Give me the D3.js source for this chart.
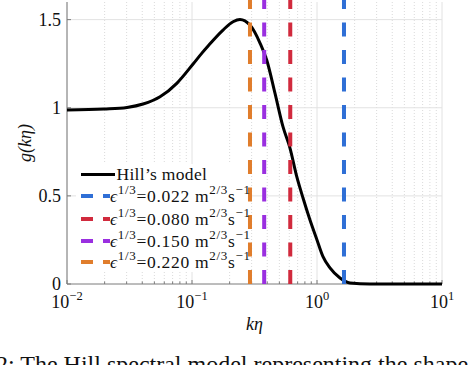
<!DOCTYPE html>
<html><head><meta charset="utf-8">
<script src="https://cdn.jsdelivr.net/npm/d3@7"></script>
<style>
html,body{margin:0;padding:0;background:#fff;overflow:hidden;}
svg{display:block;}
text{font-family:"Liberation Serif","DejaVu Serif",serif;fill:#111;}
</style></head>
<body>
<svg id="c" width="474" height="365"></svg>
<script>
// ---- data ----
const kEta = [0.01, 0.0198, 0.0302, 0.0406, 0.0555, 0.0759, 0.102, 0.120, 0.135, 0.177, 0.213, 0.242, 0.291, 0.350, 0.396, 0.461, 0.535, 0.608, 0.689, 0.773, 0.879, 1.0, 1.117, 1.27, 1.528, 1.837, 2.65, 10];
const gHill = [0.987, 0.993, 1.002, 1.021, 1.062, 1.140, 1.248, 1.310, 1.352, 1.441, 1.488, 1.501, 1.469, 1.367, 1.271, 1.083, 0.891, 0.771, 0.609, 0.488, 0.363, 0.250, 0.155, 0.091, 0.034, 0.006, 0.0, 0.0];
const epsLabels = ["0.022", "0.080", "0.150", "0.220"];
const kEtaCut = [1.644, 0.611, 0.378, 0.291];
const cutColors = ["#2f6fd6", "#d12a3d", "#9a2fe0", "#e07d2c"];
const xTicks = [0.01, 0.1, 1, 10];
const xTickExp = ["\u22122", "\u22121", "0", "1"];
const yTicks = [0, 0.5, 1, 1.5];
const yTickLabels = ["0", "0.5", "1", "1.5"];

// ---- layout ----
const svg = d3.select("#c");
const L = 67, R = 442, T = 2, B = 284;
const x = d3.scaleLog().domain([0.01, 10]).range([L, R]);
const y = d3.scaleLinear().domain([0, 1.6]).range([B, T]);

// grid: minor vertical dotted
const minor = [];
for (let e = -2; e < 1; e++) for (let m = 2; m <= 9; m++) minor.push(m * Math.pow(10, e));
const grid = svg.append("g");
grid.selectAll("line.mn").data(minor).enter().append("line")
  .attr("x1", d => x(d)).attr("x2", d => x(d)).attr("y1", T).attr("y2", B)
  .attr("stroke", "#dadada").attr("stroke-width", 1).attr("stroke-dasharray", "1,2");
grid.selectAll("line.mj").data(xTicks).enter().append("line")
  .attr("x1", d => x(d)).attr("x2", d => x(d)).attr("y1", T).attr("y2", B)
  .attr("stroke", "#e2e2e2").attr("stroke-width", 1);
grid.selectAll("line.hy").data(yTicks.slice(1)).enter().append("line")
  .attr("x1", L).attr("x2", R).attr("y1", d => y(d)).attr("y2", d => y(d))
  .attr("stroke", "#e2e2e2").attr("stroke-width", 1);

// axes lines
svg.append("line").attr("x1", L).attr("x2", L).attr("y1", T).attr("y2", B).attr("stroke", "#7a7a7a").attr("stroke-width", 1);
svg.append("line").attr("x1", L).attr("x2", R).attr("y1", B).attr("y2", B).attr("stroke", "#7a7a7a").attr("stroke-width", 1);

// ticks (inward)
svg.selectAll("line.yt").data(yTicks).enter().append("line")
  .attr("x1", L).attr("x2", L + 4).attr("y1", d => y(d)).attr("y2", d => y(d))
  .attr("stroke", "#7a7a7a");
svg.selectAll("line.xt").data(xTicks).enter().append("line")
  .attr("x1", d => x(d)).attr("x2", d => x(d)).attr("y1", B).attr("y2", B - 4)
  .attr("stroke", "#7a7a7a");
svg.selectAll("line.xmt").data(minor).enter().append("line")
  .attr("x1", d => x(d)).attr("x2", d => x(d)).attr("y1", B).attr("y2", B - 2.5)
  .attr("stroke", "#7a7a7a");

// tick labels
svg.selectAll("text.yl").data(yTicks).enter().append("text")
  .attr("x", L - 6).attr("y", d => y(d) + 6).attr("text-anchor", "end")
  .attr("font-size", 18).text((d, i) => yTickLabels[i]);
xTicks.forEach((d, i) => {
  const t = svg.append("text").attr("x", x(d)).attr("y", 307.5).attr("text-anchor", "middle").attr("font-size", 18);
  t.append("tspan").text("10");
  t.append("tspan").attr("dy", -8).attr("font-size", 12.5).text(xTickExp[i]);
});

// axis labels
svg.append("text").attr("x", (L + R) / 2).attr("y", 330).attr("text-anchor", "middle")
  .attr("font-size", 18).attr("font-style", "italic").text("k\u03B7");
svg.append("text").attr("transform", "translate(31," + ((T + B) / 2) + ") rotate(-90)")
  .attr("text-anchor", "middle").attr("font-size", 18).attr("font-style", "italic").text("g(k\u03B7)");

// legend background
svg.append("rect").attr("x", 76).attr("y", 164).attr("width", 174).attr("height", 108).attr("fill", "#fff");

// Hill curve
const line = d3.line().x(d => x(d[0])).y(d => y(d[1])).curve(d3.curveMonotoneX);
svg.append("path").datum(kEta.map((k, i) => [k, gHill[i]]))
  .attr("d", line).attr("fill", "none").attr("stroke", "#000").attr("stroke-width", 3);

// vertical cut-off lines
svg.selectAll("line.cut").data(kEtaCut).enter().append("line")
  .attr("x1", d => x(d)).attr("x2", d => x(d)).attr("y1", y(0)).attr("y2", T - 6)
  .attr("stroke", (d, i) => cutColors[i]).attr("stroke-width", 4)
  .attr("stroke-dasharray", "14,13.5");

// legend entries
const lg = svg.append("g");
lg.append("line").attr("x1", 81).attr("x2", 115).attr("y1", 174.5).attr("y2", 174.5).attr("stroke", "#000").attr("stroke-width", 3);
lg.append("text").attr("x", 116.5).attr("y", 180).attr("font-size", 17.5).attr("letter-spacing", 0.3).text("Hill\u2019s model");
const rowsY = [196, 219, 241, 262];
epsLabels.forEach((e, i) => {
  const yy = rowsY[i];
  lg.append("line").attr("x1", 81).attr("x2", 110).attr("y1", yy).attr("y2", yy)
    .attr("stroke", cutColors[i]).attr("stroke-width", 4).attr("stroke-dasharray", "12,10");
  const t = lg.append("text").attr("x", 110).attr("y", yy + 6).attr("font-size", 17.5).attr("letter-spacing", 0.7);
  t.append("tspan").attr("font-style", "italic").text("\u03F5");
  t.append("tspan").attr("dy", -8).attr("font-size", 13).text("1/3");
  t.append("tspan").attr("dy", 8).text("=" + e + " m");
  t.append("tspan").attr("dy", -8).attr("font-size", 13).text("2/3");
  t.append("tspan").attr("dy", 8).text("s");
  t.append("tspan").attr("dy", -8).attr("font-size", 13).text("\u22121");
});

// caption (cut off at bottom, as in the reference)
svg.append("text").attr("x", -4).attr("y", 372).attr("font-size", 24)
  .text("2: The Hill spectral model representing the shape");
</script>
</body></html>
